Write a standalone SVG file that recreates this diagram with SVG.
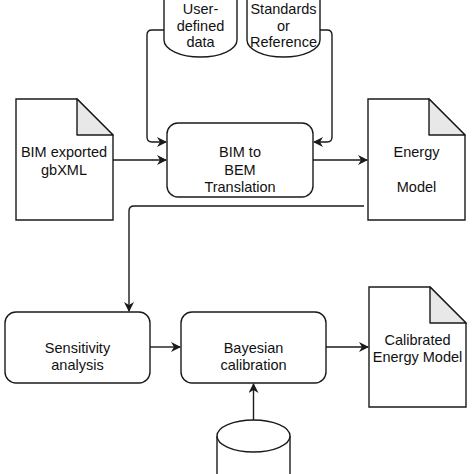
<svg xmlns="http://www.w3.org/2000/svg" width="474" height="474" viewBox="0 0 474 474">
<defs>
<marker id="arr" viewBox="0 0 10 10" refX="9" refY="5" markerWidth="10" markerHeight="10" markerUnits="userSpaceOnUse" orient="auto">
<path d="M0,0 L10,5 L0,10 L3,5 z" fill="#1a1a1a"/>
</marker>
</defs>
<style>
.s{fill:#fff;stroke:#1a1a1a;stroke-width:1.4}
.f{fill:#e8e8e8;stroke:#1a1a1a;stroke-width:1.4;stroke-linejoin:round}
.c{fill:none;stroke:#1a1a1a;stroke-width:1.4;marker-end:url(#arr)}
.l{fill:none;stroke:#1a1a1a;stroke-width:1.4}
text{font-family:"Liberation Sans",Arial,sans-serif;font-size:14.5px;fill:#111;text-anchor:middle}
</style>
<rect width="474" height="474" fill="#fff"/>
<g id="connectors">
<path class="c" d="M164,30 H152 Q147,30 147,35 V137 Q147,142 152,142 H166"/>
<path class="c" d="M320,30 H327 Q332,30 332,35 V137 Q332,142 327,142 H314"/>
<path class="c" d="M113,160 H166"/>
<path class="c" d="M313,160 H367"/>
<path class="c" d="M364,206 H134 Q129,206 129,211 V311"/>
<path class="c" d="M150,347 H180"/>
<path class="c" d="M326,347 H368"/>
<path class="c" d="M253.5,420 V384"/>
</g>
<g id="user-defined-data">
<path class="s" d="M164,-2 V40 A36.5,17 0 0 0 237,40 V-2"/>
<text x="200.5" y="14">User-</text>
<text x="200.5" y="31">defined</text>
<text x="200.5" y="47">data</text>
</g>
<g id="standards">
<path class="s" d="M247,-2 V40 A36.5,17 0 0 0 320,40 V-2"/>
<text x="283.5" y="14">Standards</text>
<text x="283.5" y="31">or</text>
<text x="283.5" y="47">Reference</text>
</g>
<g id="bim-exported">
<path class="s" d="M16,99 H77 L113,135 V220 H16 Z"/>
<path class="f" d="M77,99 V135 H113 Z"/>
<text x="64" y="157">BIM exported</text>
<text x="64" y="175">gbXML</text>
</g>
<g id="bim-to-bem">
<rect class="s" x="167" y="123" width="146" height="74" rx="11"/>
<text x="240" y="157">BIM to</text>
<text x="240" y="174.5">BEM</text>
<text x="240" y="192">Translation</text>
</g>
<g id="energy-model">
<path class="s" d="M368,99 H429 L465,135 V220 H368 Z"/>
<path class="f" d="M429,99 V135 H465 Z"/>
<text x="416.5" y="157">Energy</text>
<text x="416.5" y="192">Model</text>
</g>
<g id="sensitivity">
<rect class="s" x="5" y="312" width="145" height="71" rx="11"/>
<text x="77.5" y="353">Sensitivity</text>
<text x="77.5" y="370">analysis</text>
</g>
<g id="bayesian">
<rect class="s" x="181" y="312" width="145" height="71" rx="11"/>
<text x="253.5" y="353">Bayesian</text>
<text x="253.5" y="370">calibration</text>
</g>
<g id="calibrated">
<path class="s" d="M369,287 H430 L466,323 V407 H369 Z"/>
<path class="f" d="M430,287 V323 H466 Z"/>
<text x="417.5" y="345">Calibrated</text>
<text x="417.5" y="362">Energy Model</text>
</g>
<g id="database">
<path class="s" d="M217,436 V476 H290 V436"/>
<ellipse class="s" cx="253.5" cy="436" rx="36.5" ry="16"/>
</g>
</svg>
